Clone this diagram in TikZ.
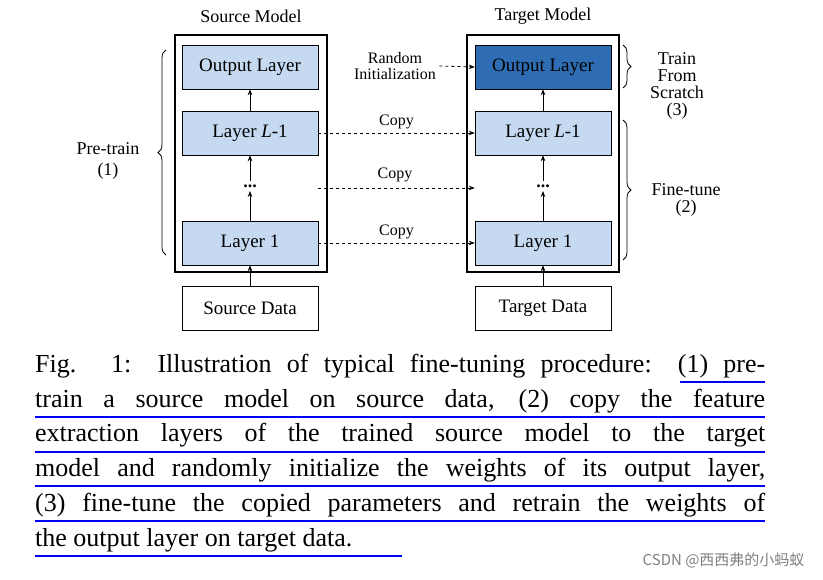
\documentclass[tikz,border=0pt]{standalone}
\usepackage{fontspec}
\setmainfont{Liberation Serif}
\newfontfamily\cjk{Noto Sans CJK SC}
\usetikzlibrary{decorations.pathreplacing,arrows.meta}
\definecolor{lb}{HTML}{C5D9F0}
\definecolor{db}{HTML}{2E6DB4}
\begin{document}
\begin{tikzpicture}[x=1pt,y=-1pt,
  lay/.style={draw,fill=lb,minimum width=136pt,minimum height=44pt,font=\fontsize{19}{21}\selectfont},
  dark/.style={lay,fill=db},
  dat/.style={draw,minimum width=136pt,minimum height=44pt,font=\fontsize{19}{21}\selectfont},
  outer/.style={draw,line width=1.2pt},
  arr/.style={-{Stealth[length=6pt]},line width=0.8pt},
  darr/.style={arr,dashed},
  lbl/.style={font=\fontsize{16}{19}\selectfont,align=center},
  br/.style={decorate,decoration={brace,amplitude=8pt},line width=0.8pt}]
\useasboundingbox (0,0) rectangle (823,580);
\draw[outer] (175,35) rectangle (327,272);
\draw[outer] (467,35) rectangle (619,272);
\node[lbl,font=\fontsize{18}{20}\selectfont] (st) at (251,16) {Source Model};
\node[lbl,font=\fontsize{18}{20}\selectfont] (tt) at (543,16) {Target Model};
\node[lay] (so) at (250,67) {Output Layer};
\node[lay] (sl) at (250,133) {Layer \textit{L}-1};
\node[font=\bfseries\fontsize{18}{20}\selectfont] (sd) at (250,186) {...};
\node[lay] (s1) at (250,243) {Layer 1};
\node[dat] (sdat) at (250,308) {Source Data};
\node[dark] (to) at (543,67) {Output Layer};
\node[lay] (tl) at (543,133) {Layer \textit{L}-1};
\node[font=\bfseries\fontsize{18}{20}\selectfont] (td) at (543,186) {...};
\node[lay] (t1) at (543,243) {Layer 1};
\node[dat] (tdat) at (543,308) {Target Data};
\foreach \a/\b in {sdat/s1,s1/sd,sd/sl,sl/so,tdat/t1,t1/td,td/tl,tl/to} \draw[arr] (\a) -- (\b);
\draw[darr] (sl) -- (tl) node[lbl,midway,above] {Copy};
\draw[darr] (sd.east -| sl.east) ++(0,2) coordinate (c1) (c1) -- (c1 -| tl.west) coordinate (c2);
\node[lbl] (cp2) at (395,175) {Copy};
\draw[darr] (s1) -- (t1) node[lbl,midway,above] {Copy};
\node[lbl] (ri) at (395,66) {Random\\[-3pt]Initialization};
\draw[darr] (ri.east) -- (to.west);
\draw[br] (166,255) -- (166,50);
\node[lbl,font=\fontsize{18}{21}\selectfont] (pt) at (108,161) {Pre-train\\(1)};
\draw[br] (623,45) -- (623,88);
\node[lbl,font=\fontsize{18}{20}\selectfont] (tfs) at (677,86) {Train\\[-3pt]From\\[-3pt]Scratch\\[-3pt](3)};
\draw[br] (623,120) -- (623,260);
\node[lbl,font=\fontsize{18}{20}\selectfont] (ft) at (686,200) {Fine-tune\\[-3pt](2)};
\node[anchor=north west,inner sep=0,text width=730pt,align=justify,font=\fontsize{26}{34.7}\selectfont] (cap) at (35,354)
{Fig. 1: Illustration of typical fine-tuning procedure: (1) pre-\linebreak train a source model on source data, (2) copy the feature\linebreak extraction layers of the trained source model to the target\linebreak model and randomly initialize the weights of its output layer,\linebreak (3) fine-tune the copied parameters and retrain the weights of\linebreak the output layer on target data.};
\foreach \y in {417,452,486,521} \draw[blue,line width=1.8pt] (35,\y) -- (765,\y);
\draw[blue,line width=1.8pt] (680,382) -- (765,382);
\draw[blue,line width=1.8pt] (35,556) -- (402,556);
\node[anchor=east,text=gray,font=\cjk\fontsize{15}{17}\selectfont] (wm) at (808,560) {CSDN @西西弗的小蚂蚁};
\end{tikzpicture}
\end{document}
